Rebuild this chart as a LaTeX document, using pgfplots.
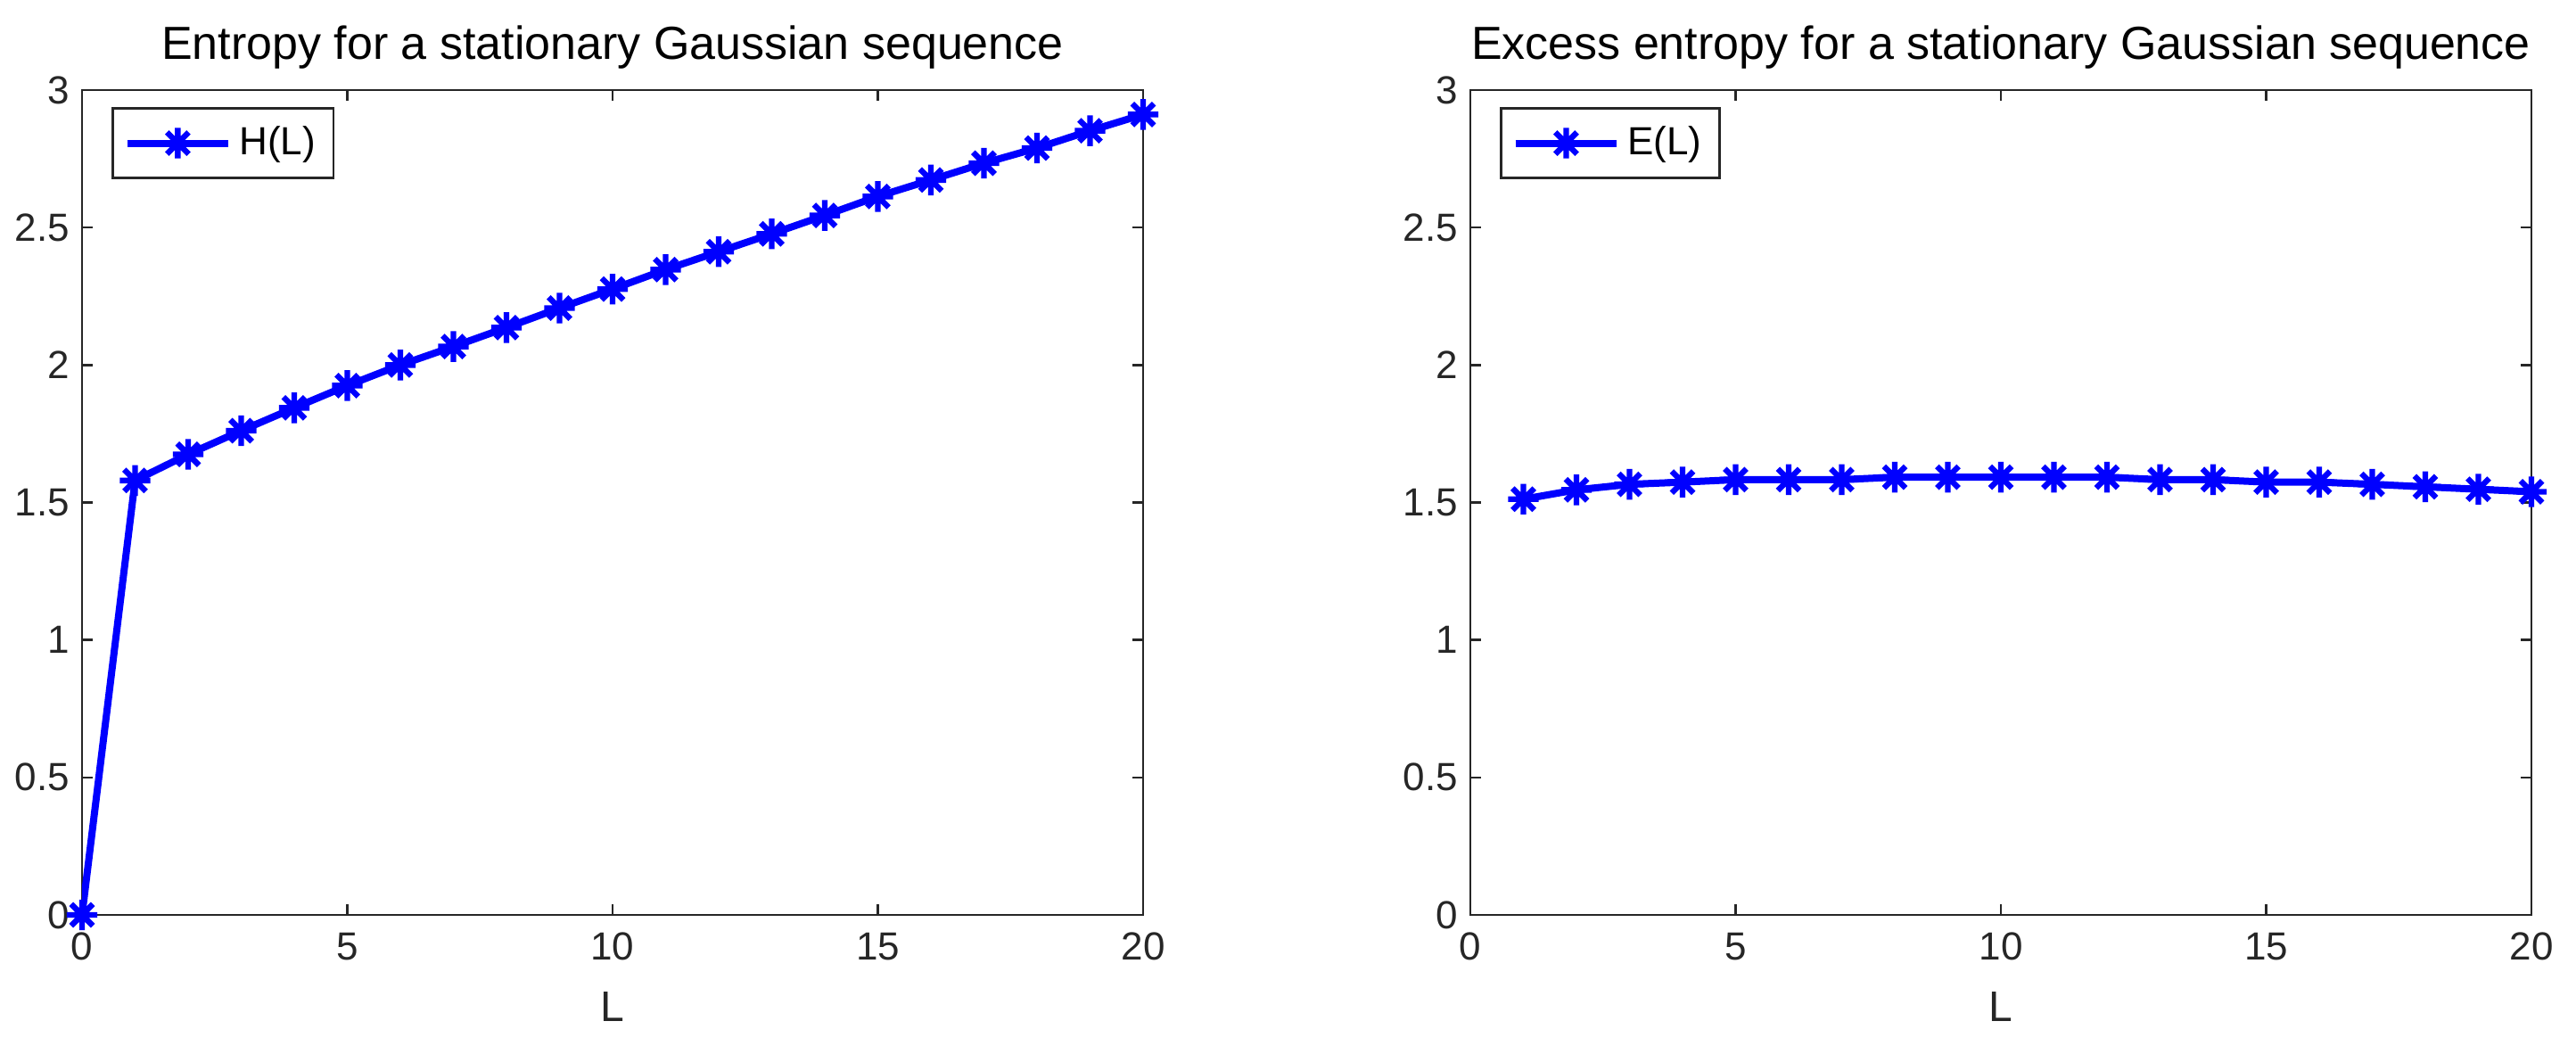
\documentclass[border=0pt]{standalone}
\usepackage{pgfplots}
\pgfplotsset{compat=1.18}
\usepackage{fontspec}
\setmainfont{Liberation Sans}

\definecolor{axgray}{rgb}{0.15,0.15,0.15}

% MATLAB-like '*' marker: + and x together
\pgfdeclareplotmark{mstar}{%
  \pgfpathmoveto{\pgfqpoint{0pt}{\pgfplotmarksize}}\pgfpathlineto{\pgfqpoint{0pt}{-\pgfplotmarksize}}%
  \pgfpathmoveto{\pgfqpoint{\pgfplotmarksize}{0pt}}\pgfpathlineto{\pgfqpoint{-\pgfplotmarksize}{0pt}}%
  \pgfpathmoveto{\pgfqpointpolar{45}{\pgfplotmarksize}}\pgfpathlineto{\pgfqpointpolar{225}{\pgfplotmarksize}}%
  \pgfpathmoveto{\pgfqpointpolar{135}{\pgfplotmarksize}}\pgfpathlineto{\pgfqpointpolar{315}{\pgfplotmarksize}}%
  \pgfusepathqstroke}

\pgfplotsset{
  mlab/.style={
    width=297.5pt, height=231.25pt, scale only axis,
    xmin=0, xmax=20, ymin=0, ymax=3,
    xtick={0,5,10,15,20},
    ytick={0,0.5,1,1.5,2,2.5,3},
    tick align=inside, tick pos=both,
    major tick length=3pt,
    axis line style={axgray, line width=0.6pt},
    every tick/.style={axgray, line width=0.6pt},
    tick label style={font=\fontsize{11}{13}\selectfont, text=axgray},
    xticklabel style={yshift=-1.5pt},
    /pgf/number format/assume math mode=true,
    xlabel={L},
    xlabel style={font=\fontsize{12}{14}\selectfont, text=axgray, yshift=-2pt},
    title style={font=\fontsize{13}{15}\selectfont, at={(0.5,1)}, anchor=base, yshift=2.5pt},
    legend style={at={(0.028,0.979)}, anchor=north west, draw=axgray,
      line width=0.6pt, font=\fontsize{11}{13}\selectfont, text=black,
      inner ysep=3pt},
    legend cell align=left,
    legend image code/.code={%
      \draw[mark repeat=2,mark phase=2] plot coordinates {(0cm,0cm)(0.5cm,0cm)(1cm,0cm)};},
  },
  series/.style={color=blue, line width=2pt, mark=mstar, mark size=4.3pt,
    mark options={solid, line width=1.6pt}},
}

\begin{document}
\begin{tikzpicture}
\useasboundingbox (-23pt,-36.75pt) rectangle (699.25pt,256.5pt);
\begin{axis}[mlab, title={Entropy for a stationary Gaussian sequence}]
  \addplot[series] coordinates {
    (0,0)(1,1.580)(2,1.675)(3,1.761)(4,1.844)(5,1.925)(6,2.000)(7,2.067)
    (8,2.136)(9,2.207)(10,2.276)(11,2.347)(12,2.412)(13,2.477)(14,2.544)
    (15,2.613)(16,2.673)(17,2.734)(18,2.789)(19,2.852)(20,2.911)
  };
  \addlegendentry{H(L)}
\end{axis}
\begin{axis}[mlab, at={(389.25pt,0pt)}, anchor=south west,
    title={Excess entropy for a stationary Gaussian sequence}]
  \addplot[series] coordinates {
    (1,1.512)(2,1.546)(3,1.566)(4,1.574)(5,1.583)(6,1.583)(7,1.583)
    (8,1.592)(9,1.592)(10,1.592)(11,1.592)(12,1.592)(13,1.583)(14,1.583)
    (15,1.574)(16,1.574)(17,1.566)(18,1.557)(19,1.548)(20,1.539)
  };
  \addlegendentry{E(L)}
\end{axis}
\end{tikzpicture}
\end{document}
